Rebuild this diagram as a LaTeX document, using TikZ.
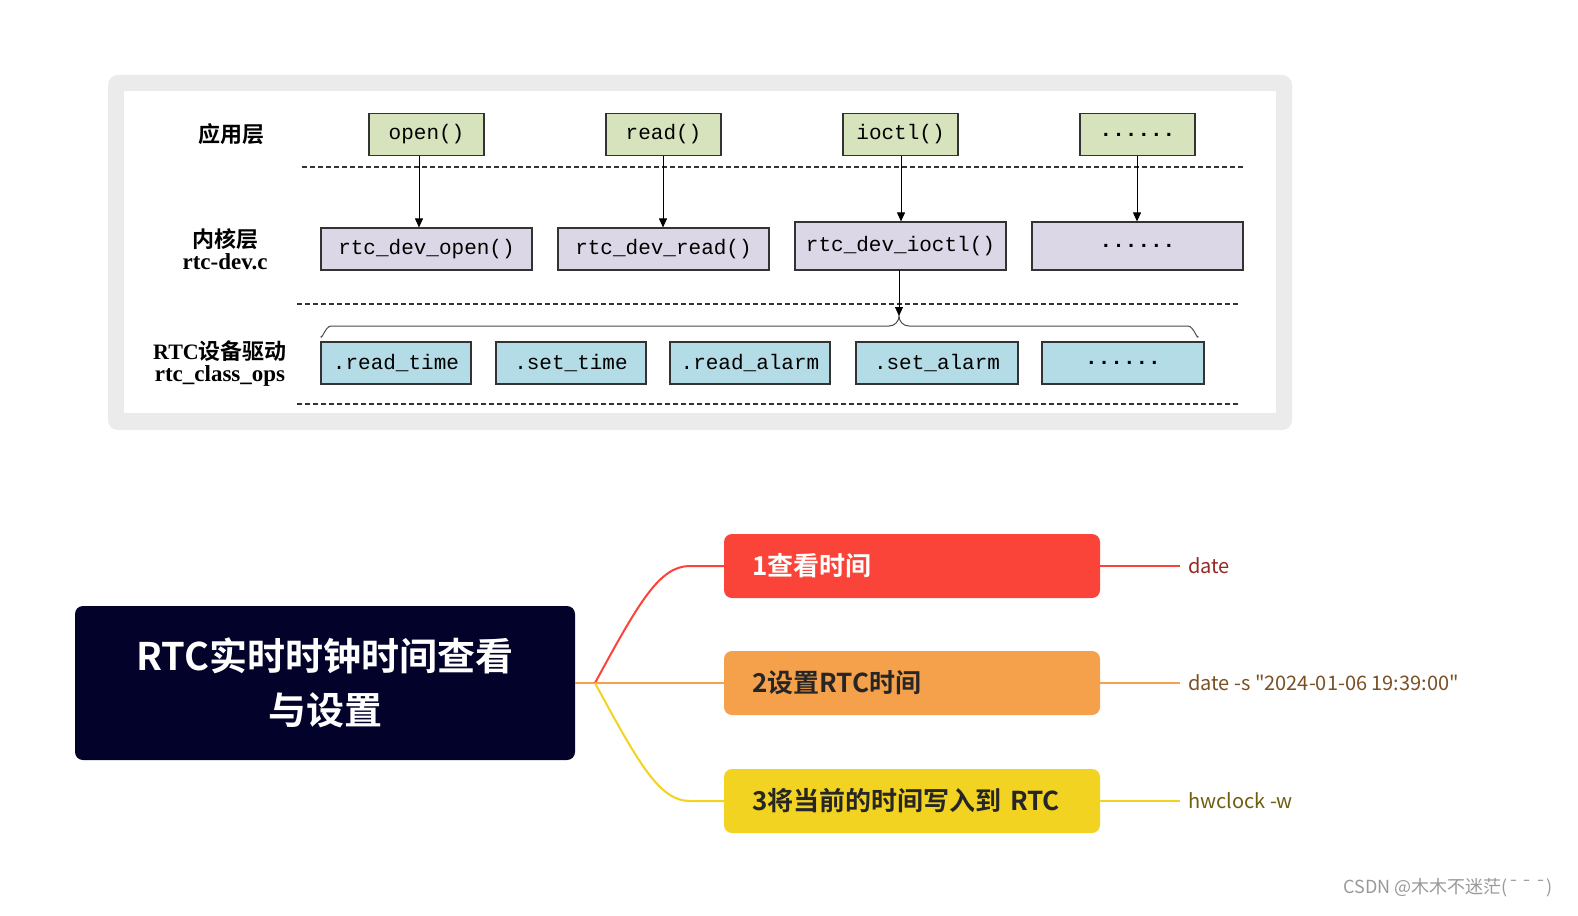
\documentclass[tikz,border=0pt]{standalone}
\usepackage{fontspec}
\setmainfont{Liberation Serif}
\newfontfamily\cjk{Noto Sans CJK SC}
\newfontfamily\cjkb{Noto Sans CJK SC Bold}
\newfontfamily\mono{Liberation Mono}
\usetikzlibrary{arrows.meta,decorations.pathreplacing}
\definecolor{gA}{HTML}{D6E3BD}
\definecolor{pB}{HTML}{DCD7E6}
\definecolor{bC}{HTML}{B3DCE6}
\definecolor{navy}{HTML}{02022A}
\definecolor{rr}{HTML}{FB4439}
\definecolor{oo}{HTML}{F5A04A}
\definecolor{yy}{HTML}{F2D321}
\begin{document}
\begin{tikzpicture}[x=1pt,y=-1pt,
  bx/.style={draw=black!80,line width=1.2pt,minimum height=42pt,inner sep=0pt,font=\mono\fontsize{21}{21}\selectfont},
  dl/.style={dashed,line width=1.2pt,dash pattern=on 5pt off 3pt,black!80},
  ar/.style={-{Triangle[length=9pt,width=8pt]},line width=1pt},
  lab/.style={font=\cjkb\fontsize{22}{24}\selectfont,align=center},
  br/.style={rounded corners=8pt,minimum height=64pt,minimum width=376pt,inner sep=0pt,text width=320pt,align=left,font=\cjkb\fontsize{26}{26}\selectfont},
  leaf/.style={anchor=west,font=\cjk\fontsize{20}{20}\selectfont,inner sep=0pt}]
\useasboundingbox (0,0) rectangle (1578,915);
\fill[white] (0,0) rectangle (1578,915);
\fill[black!8,rounded corners=10pt] (108,75) rectangle (1292,430);
\fill[white] (124,91) rectangle (1276,413);
% labels
\node[lab] (l1) at (231,134) {应用层};
\node[lab] (l2) at (225,249) {内核层\\[-2pt]{\rmfamily\bfseries\fontsize{23}{23}\selectfont rtc-dev.c}};
\node[lab] (l3) at (220,364) {{\rmfamily\bfseries RTC}设备驱动\\[-2pt]{\rmfamily\bfseries\fontsize{23}{23}\selectfont rtc\_class\_ops}};
% row1
\node[bx,fill=gA,minimum width=115pt] (a1) at (426.5,134.5) {open()};
\node[bx,fill=gA,minimum width=115pt] (a2) at (663.5,134.5) {read()};
\node[bx,fill=gA,minimum width=115pt] (a3) at (900.5,134.5) {ioctl()};
\node[bx,fill=gA,minimum width=115pt] (a4) at (1137.5,134.5) {\textbf{......}};
\draw[dl] (302,167) -- (1245,167);
% row2
\node[bx,fill=pB,minimum width=211pt] (k1) at (426.5,249) {rtc\_dev\_open()};
\node[bx,fill=pB,minimum width=211pt] (k2) at (663.5,249) {rtc\_dev\_read()};
\node[bx,fill=pB,minimum width=211pt,minimum height=48pt] (k3) at (900.5,246) {rtc\_dev\_ioctl()};
\node[bx,fill=pB,minimum width=211pt,minimum height=48pt] (k4) at (1137.5,246) {\textbf{......}};
\draw[ar] (419,156) -- (k1.north -| 419,0);
\draw[ar] (663,156) -- (k2.north -| 663,0);
\draw[ar] (901,156) -- (k3.north -| 901,0);
\draw[ar] (1137,156) -- (k4.north -| 1137,0);
\draw[dl] (297,304) -- (1240,304);
% brace
\coordinate (bt) at (899,316);
\draw[black!70,line width=1pt] (321,336) to[out=-90,in=180] (331,326) -- (889,326) to[out=0,in=-90] (bt) to[out=-90,in=180] (909,326) -- (1188,326) to[out=0,in=-90] (1198,336);
\draw[ar] (899,270) -- (bt);
% row3
\node[bx,fill=bC,minimum width=150pt] (d1) at (396,363) {.read\_time};
\node[bx,fill=bC,minimum width=150pt] (d2) at (571,363) {.set\_time};
\node[bx,fill=bC,minimum width=160pt] (d3) at (750,363) {.read\_alarm};
\node[bx,fill=bC,minimum width=162pt] (d4) at (937,363) {.set\_alarm};
\node[bx,fill=bC,minimum width=162pt] (d5) at (1123,363) {\textbf{......}};
\draw[dl] (297,404) -- (1240,404);
% mind map
\node[fill=navy,rounded corners=8pt,minimum width=500pt,minimum height=154pt,text=white,align=center,font=\cjkb\fontsize{38}{54}\selectfont] (root) at (325,683) {RTC实时时钟时间查看\\与设置};
\node[br,fill=rr,text=white] (b1) at (912,566) {1查看时间};
\node[br,fill=oo,text=black!85] (b2) at (912,683) {2设置RTC时间};
\node[br,fill=yy,text=black!85] (b3) at (912,801) {3将当前的时间写入到 RTC};
\coordinate (hub) at (595,683);
\draw[oo,line width=2pt] (root.east) -- (hub);
\draw[rr,line width=2pt] (hub) .. controls (640,600) and (660,566) .. (690,566) -- (b1.west);
\draw[oo,line width=2pt] (hub) -- (b2.west);
\draw[yy,line width=2pt] (hub) .. controls (640,766) and (660,801) .. (690,801) -- (b3.west);
\coordinate (e1) at (1180,566);
\coordinate (e2) at (1180,683);
\coordinate (e3) at (1180,801);
\draw[rr,line width=2pt] (b1.east) -- (e1);
\draw[oo,line width=2pt] (b2.east) -- (e2);
\draw[yy,line width=2pt] (b3.east) -- (e3);
\node[leaf,text=rr!60!black] (t1) at (1188,566) {date};
\node[leaf,text=oo!50!black] (t2) at (1188,683) {date -s "2024-01-06 19:39:00"};
\node[leaf,text=yy!45!black] (t3) at (1188,801) {hwclock -w};
\node[anchor=east,inner sep=0pt,text=black!40,font=\cjk\fontsize{18}{18}\selectfont] (wm) at (1553,888) {CSDN @木木不迷茫(¯\,¯\,¯)};
\end{tikzpicture}
\end{document}
